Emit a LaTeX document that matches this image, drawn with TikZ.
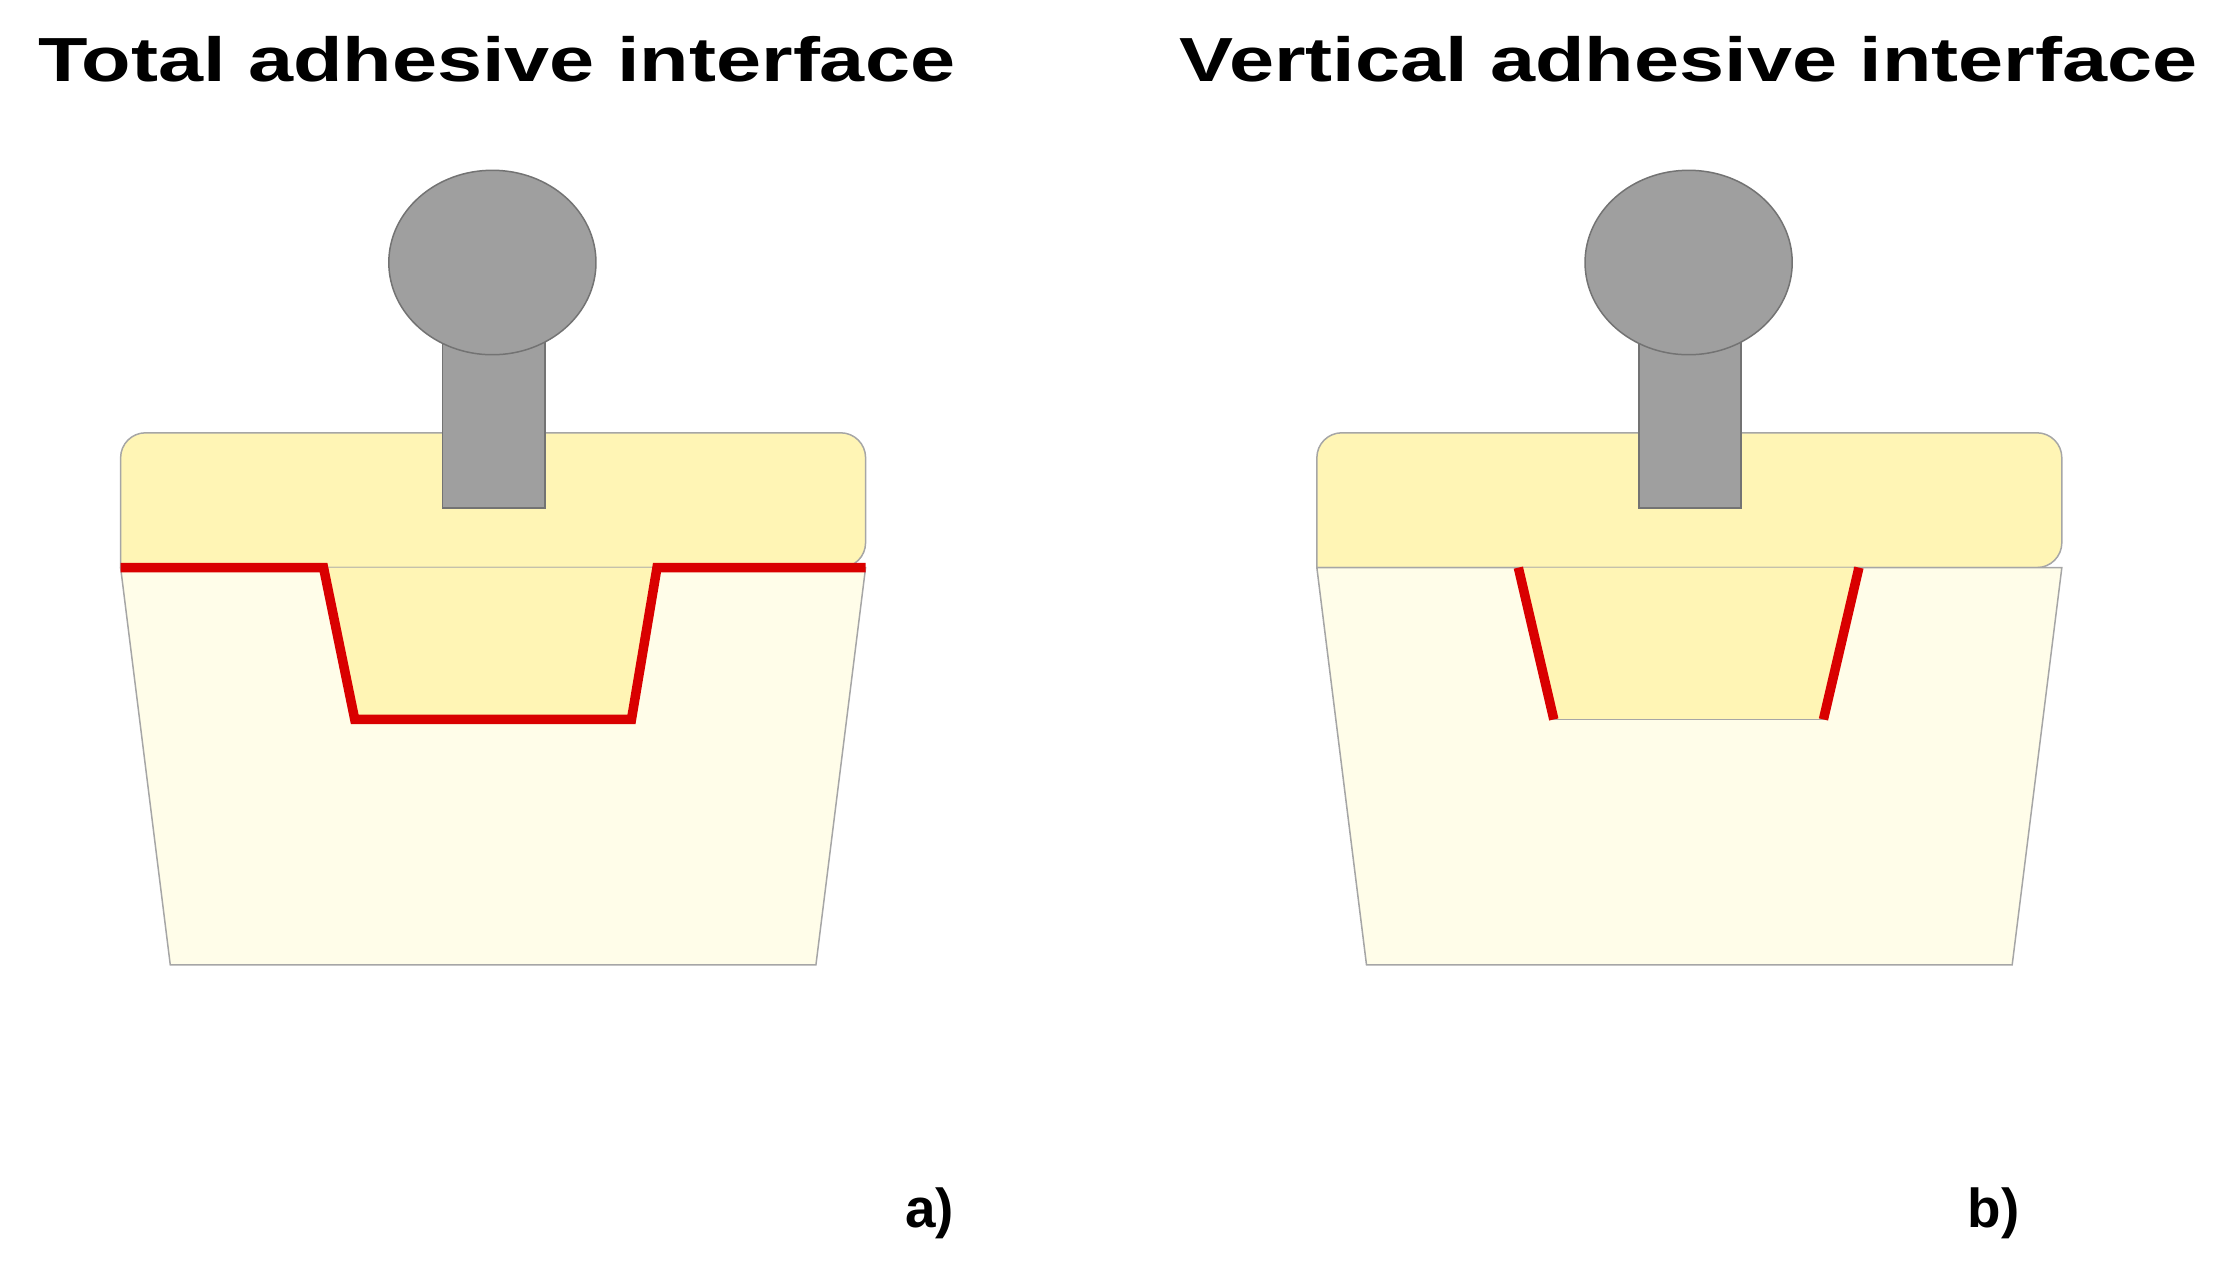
\documentclass[tikz,border=0pt]{standalone}
\usepackage{fontspec}
\setmainfont{Liberation Sans}
\begin{document}
\begin{tikzpicture}[x=0.02cm,y=-0.02cm,
  upper/.style={fill=upcol,draw=gray!70,line width=0.6pt},
  lower/.style={fill=lowcol,draw=gray!70,line width=0.6pt},
  redline/.style={draw=red!85!black,line width=3.8pt},
  post/.style={fill=gray!75!white,draw=gray!90!black,line width=0.6pt},
  ttl/.style={font=\fontsize{25}{28}\selectfont\bfseries,xscale=1.3},
  lbl/.style={font=\fontsize{22}{26}\selectfont\bfseries}]
\definecolor{upcol}{HTML}{FFF5B5}
\definecolor{lowcol}{HTML}{FFFDE9}
\useasboundingbox (0,0) rectangle (1568,898);
\node[ttl] (ta) at (350,42) {Total adhesive interface};
\node[ttl] (tb) at (1190,42) {Vertical adhesive interface};
\node[lbl] (la) at (655,855) {a)};
\node[lbl] (lb) at (1405,855) {b)};
\foreach \o/\m in {0/a,843/b}{
\begin{scope}[xshift=\o*0.02cm]
 \draw[upper] (85,400) [rounded corners=10pt] -- (85,305) -- (610,305) -- (610,400) [sharp corners] -- cycle;
 \draw[lower] (85,400) -- (610,400) -- (575,680) -- (120,680) -- cycle;
 \fill[upcol] (228,400) -- (250,507) -- (445,507) -- (463,400) -- cycle;
 \draw[post] (312,240) rectangle (384,358);
 \draw[post] (347,185) ellipse (73 and 65);
\end{scope}}
\draw[redline,line join=miter] (85,400) -- (228,400) -- (250,507) -- (445,507) -- (463,400) -- (610,400);
\draw[gray!70,line width=0.6pt] (1093,507) -- (1288,507);
\draw[redline] (1070,400) -- (1095,507);
\draw[redline] (1310,400) -- (1285,507);
\end{tikzpicture}
\end{document}
